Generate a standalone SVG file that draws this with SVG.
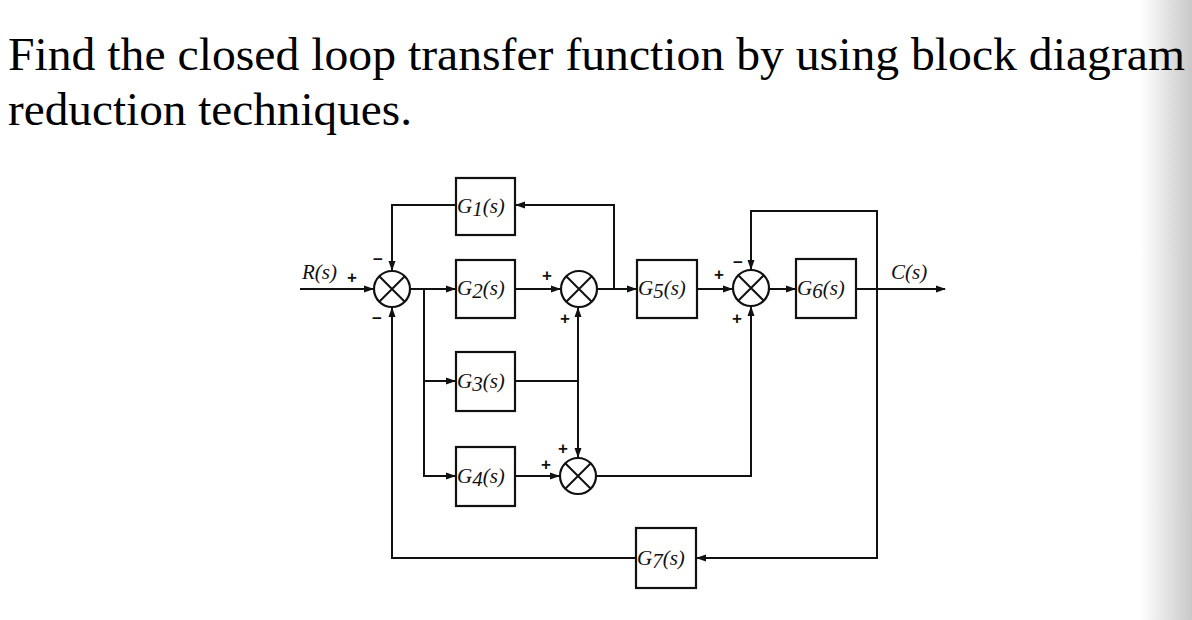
<svg xmlns="http://www.w3.org/2000/svg" width="1192" height="620" viewBox="0 0 1192 620">
<defs>
<marker id="a" markerWidth="10" markerHeight="8" refX="9" refY="4" orient="auto" markerUnits="userSpaceOnUse"><path d="M0,0.5 L10,4 L0,7.5 Z" fill="#111"/></marker>
<linearGradient id="g" x1="0" x2="1" y1="0" y2="0"><stop offset="0" stop-color="#fff"/><stop offset="1" stop-color="#c8c8c8"/></linearGradient>
<style>
.t{font-family:"Liberation Serif",serif;font-size:46px;fill:#000}
.b{fill:#fff;stroke:#111;stroke-width:2.2}
.l{font-family:"Liberation Serif",serif;font-style:italic;font-size:21px;fill:#111}
.s{font-family:"Liberation Sans",sans-serif;font-size:17px;font-weight:bold;fill:#111}
.c line,.c polyline{fill:none;stroke:#111;stroke-width:2}
.x{fill:#fff;stroke:#111;stroke-width:2.2}
</style>
</defs>
<rect width="1192" height="620" fill="#fff"/>
<rect x="1140" y="0" width="52" height="620" fill="url(#g)"/>
<text class="t" x="8" y="70" textLength="1177" lengthAdjust="spacingAndGlyphs">Find the closed loop transfer function by using block diagram</text>
<text class="t" x="8" y="125" textLength="404" lengthAdjust="spacingAndGlyphs">reduction techniques.</text>
<g class="c">
<line x1="300" y1="289" x2="373" y2="289" marker-end="url(#a)"/>
<line x1="410" y1="289" x2="455" y2="289" marker-end="url(#a)"/>
<polyline points="424,289 424,381 455,381" marker-end="url(#a)"/>
<polyline points="424,381 424,476 455,476" marker-end="url(#a)"/>
<line x1="515" y1="289" x2="560" y2="289" marker-end="url(#a)"/>
<polyline points="456,205 392,205 392,270" marker-end="url(#a)"/>
<polyline points="597,289 614,289 614,205 516,205" marker-end="url(#a)"/>
<line x1="614" y1="289" x2="636" y2="289" marker-end="url(#a)"/>
<polyline points="515,381 578,381"/>
<line x1="578" y1="381" x2="578" y2="308" marker-end="url(#a)"/>
<line x1="578" y1="381" x2="578" y2="457" marker-end="url(#a)"/>
<line x1="515" y1="476" x2="559" y2="476" marker-end="url(#a)"/>
<polyline points="596,476 751,476 751,307" marker-end="url(#a)"/>
<line x1="697" y1="289" x2="732" y2="289" marker-end="url(#a)"/>
<line x1="769" y1="289" x2="795" y2="289" marker-end="url(#a)"/>
<line x1="856" y1="289" x2="945" y2="289" marker-end="url(#a)"/>
<polyline points="877,289 877,211 751,211 751,269" marker-end="url(#a)"/>
<polyline points="877,289 877,558 697,558" marker-end="url(#a)"/>
<polyline points="636,558 392,558 392,308" marker-end="url(#a)"/>
</g>
<g id="sum1"><circle class="x" cx="392" cy="289" r="18"/><path d="M379,276 L405,302 M405,276 L379,302" stroke="#111" stroke-width="2"/></g>
<g id="sum2"><circle class="x" cx="579" cy="289" r="18"/><path d="M566,276 L592,302 M592,276 L566,302" stroke="#111" stroke-width="2"/></g>
<g id="sum3"><circle class="x" cx="578" cy="476" r="18"/><path d="M565,463 L591,489 M591,463 L565,489" stroke="#111" stroke-width="2"/></g>
<g id="sum4"><circle class="x" cx="751" cy="288" r="18"/><path d="M738,275 L764,301 M764,275 L738,301" stroke="#111" stroke-width="2"/></g>
<g id="G1"><rect class="b" x="456" y="178" width="59" height="57"/><text class="l" x="457" y="213">G<tspan dy="3">1</tspan><tspan dy="-3">(s)</tspan></text></g>
<g id="G2"><rect class="b" x="456" y="260" width="59" height="58"/><text class="l" x="457" y="295">G<tspan dy="3">2</tspan><tspan dy="-3">(s)</tspan></text></g>
<g id="G3"><rect class="b" x="456" y="352" width="59" height="59"/><text class="l" x="457" y="388">G<tspan dy="3">3</tspan><tspan dy="-3">(s)</tspan></text></g>
<g id="G4"><rect class="b" x="456" y="447" width="59" height="59"/><text class="l" x="457" y="483">G<tspan dy="3">4</tspan><tspan dy="-3">(s)</tspan></text></g>
<g id="G5"><rect class="b" x="637" y="260" width="60" height="58"/><text class="l" x="638" y="295">G<tspan dy="3">5</tspan><tspan dy="-3">(s)</tspan></text></g>
<g id="G6"><rect class="b" x="796" y="259" width="60" height="59"/><text class="l" x="797" y="295">G<tspan dy="3">6</tspan><tspan dy="-3">(s)</tspan></text></g>
<g id="G7"><rect class="b" x="636" y="528" width="60" height="60"/><text class="l" x="637" y="565">G<tspan dy="3">7</tspan><tspan dy="-3">(s)</tspan></text></g>
<text class="l" x="302" y="279">R(s)</text>
<text class="l" x="891" y="279">C(s)</text>
<g class="s">
<text x="347" y="283">+</text>
<text x="373" y="265">−</text>
<text x="372" y="324">−</text>
<text x="542" y="281">+</text>
<text x="560" y="324">+</text>
<text x="541" y="470">+</text>
<text x="558" y="454">+</text>
<text x="714" y="280">+</text>
<text x="733" y="268">−</text>
<text x="732" y="324">+</text>
</g>
</svg>
